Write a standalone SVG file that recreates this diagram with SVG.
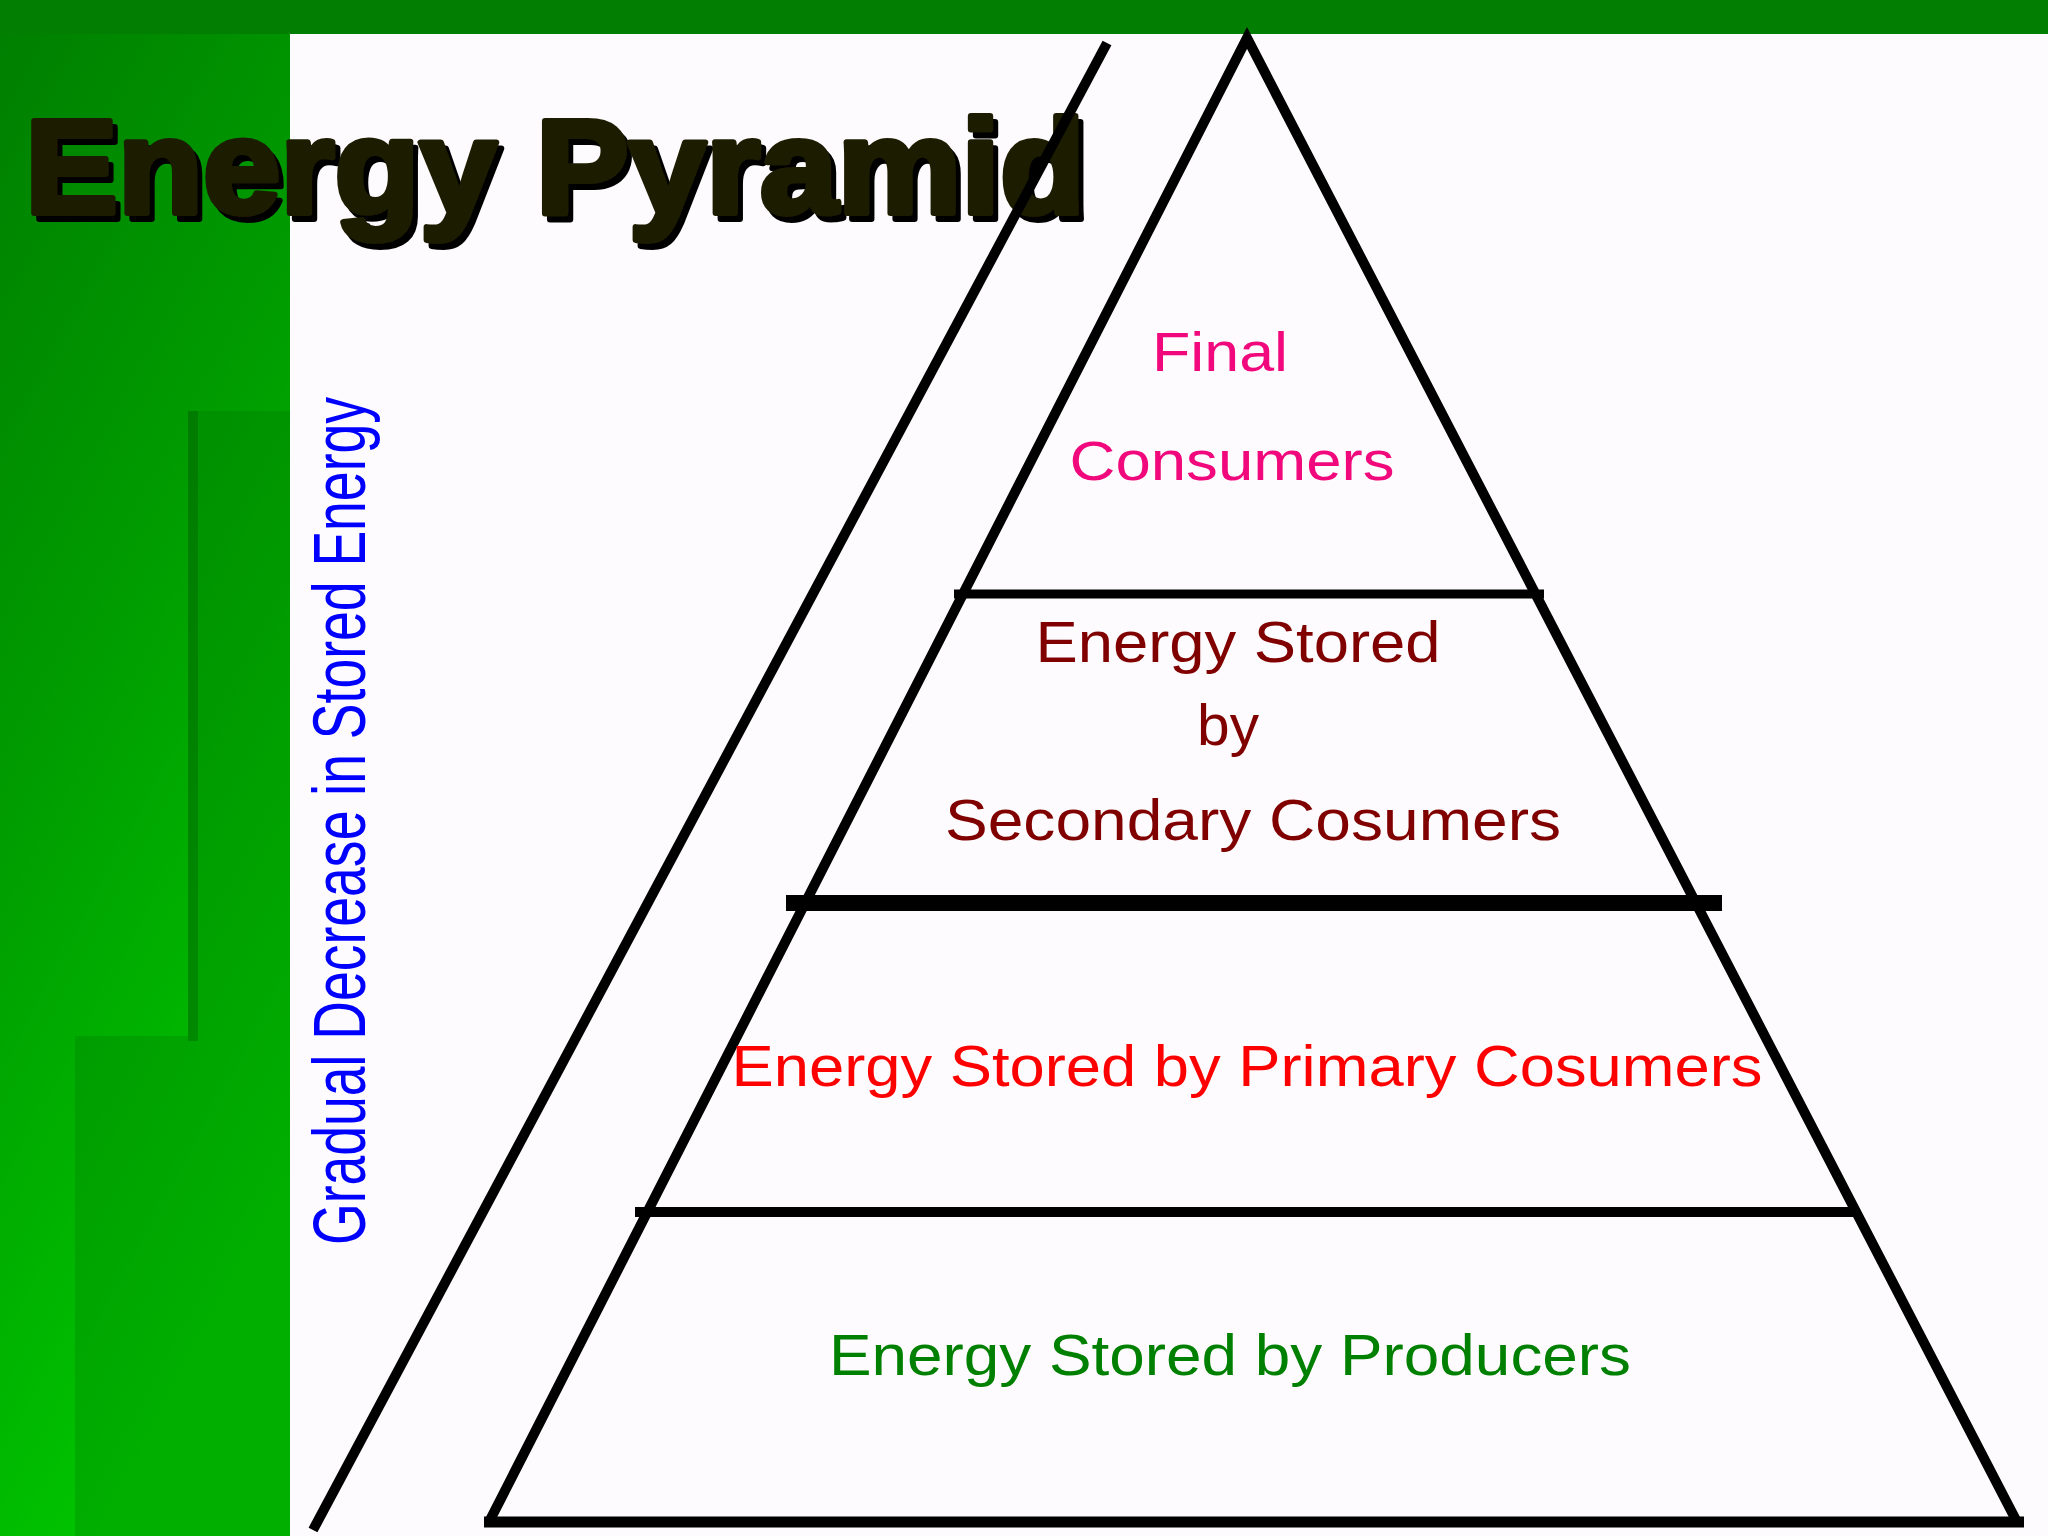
<svg xmlns="http://www.w3.org/2000/svg" width="2048" height="1536" viewBox="0 0 2048 1536">
  <defs>
    <linearGradient id="gPanel" x1="0" y1="0" x2="0.35" y2="1">
      <stop offset="0" stop-color="#007e00"/>
      <stop offset="0.5" stop-color="#009e00"/>
      <stop offset="1" stop-color="#00c400"/>
    </linearGradient>
    <filter id="shadow" x="-5%" y="-20%" width="115%" height="150%">
      <feOffset in="SourceAlpha" dx="5" dy="6" result="off"/>
      <feFlood flood-color="#000"/>
      <feComposite in2="off" operator="in" result="sh"/>
      <feMerge>
        <feMergeNode in="sh"/>
        <feMergeNode in="SourceGraphic"/>
      </feMerge>
    </filter>
    <style>
      .edge { stroke: #000; stroke-width: 10; stroke-linecap: butt; stroke-linejoin: miter; fill: none; }
      .tier { font-family: "Liberation Sans", Arial, sans-serif; text-anchor: middle; }
    </style>
  </defs>

  <g id="background">
    <rect x="0" y="0" width="2048" height="1536" fill="#fdfbfd"/>
    <rect x="0" y="0" width="290" height="1536" fill="url(#gPanel)"/>
    <rect x="188" y="411" width="102" height="1125" fill="#006e00" opacity="0.25"/>
    <rect x="188" y="411" width="10" height="630" fill="#005000" opacity="0.3"/>
    <rect x="75" y="1036" width="113" height="500" fill="#006e00" opacity="0.25"/>
    <rect x="0" y="0" width="2048" height="34" fill="#027e02"/>
  </g>

  <g id="title" filter="url(#shadow)">
    <text x="25" y="213" font-family="'Liberation Sans', Arial, sans-serif" font-weight="bold" font-size="134" fill="#1e1b03" stroke="#1e1b03" stroke-width="6" stroke-linejoin="round" textLength="1060" lengthAdjust="spacingAndGlyphs">Energy Pyramid</text>
  </g>

  <g id="side-label">
    <line class="edge" x1="1107" y1="43" x2="313" y2="1530"/>
    <text transform="translate(365,1245) rotate(-90)" x="0" y="0" font-family="'Liberation Sans', Arial, sans-serif" font-size="75" fill="#0000ff" textLength="848" lengthAdjust="spacingAndGlyphs">Gradual Decrease in Stored Energy</text>
  </g>

  <g id="connectors">
    <polyline class="edge" points="489,1522 1247,38 2017,1522"/>
    <line x1="954" y1="594" x2="1544" y2="594" stroke="#000" stroke-width="9"/>
    <line x1="786" y1="903" x2="1722" y2="903" stroke="#000" stroke-width="16"/>
    <line x1="635" y1="1212" x2="1858" y2="1212" stroke="#000" stroke-width="10"/>
    <line x1="484" y1="1522" x2="2024" y2="1522" stroke="#000" stroke-width="11"/>
  </g>

  <g id="tier-final">
    <text class="tier" x="1220" y="371" font-size="56" fill="#f0087c" textLength="136" lengthAdjust="spacingAndGlyphs">Final</text>
    <text class="tier" x="1232" y="480" font-size="56" fill="#f0087c" textLength="325" lengthAdjust="spacingAndGlyphs">Consumers</text>
  </g>

  <g id="tier-secondary">
    <text class="tier" x="1238" y="662" font-size="58" fill="#800000" textLength="405" lengthAdjust="spacingAndGlyphs">Energy Stored</text>
    <text class="tier" x="1228" y="745" font-size="58" fill="#800000" textLength="62" lengthAdjust="spacingAndGlyphs">by</text>
    <text class="tier" x="1253" y="840" font-size="58" fill="#800000" textLength="616" lengthAdjust="spacingAndGlyphs">Secondary Cosumers</text>
  </g>

  <g id="tier-primary">
    <text class="tier" x="1247" y="1086" font-size="58" fill="#ff0000" textLength="1031" lengthAdjust="spacingAndGlyphs">Energy Stored by Primary Cosumers</text>
  </g>

  <g id="tier-producers">
    <text class="tier" x="1230" y="1375" font-size="57" fill="#008000" textLength="802" lengthAdjust="spacingAndGlyphs">Energy Stored by Producers</text>
  </g>
</svg>
